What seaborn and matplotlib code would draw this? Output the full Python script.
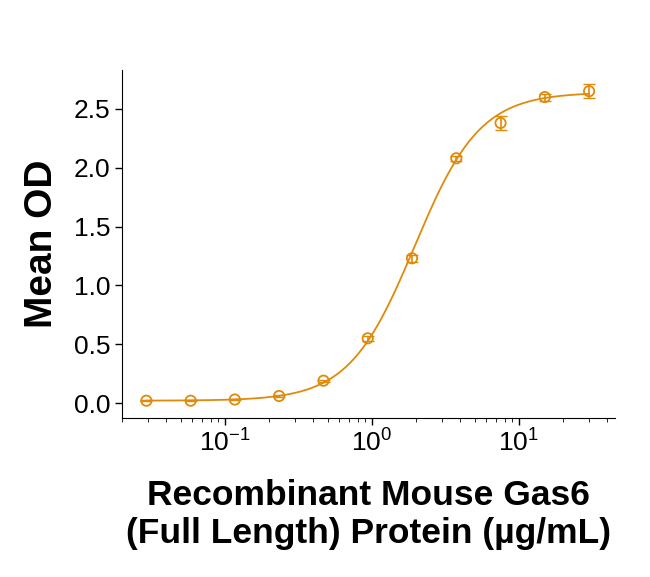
import numpy as np
import pandas as pd
import matplotlib
matplotlib.use("Agg")
import matplotlib.pyplot as plt
import seaborn as sns

# concentrations (ug/mL) and mean OD
conc = [0.0293, 0.0586, 0.117, 0.234, 0.469, 0.9375, 1.875, 3.75, 7.5, 15, 30]
od = [0.02, 0.02, 0.03, 0.06, 0.19, 0.55, 1.23, 2.08, 2.38, 2.60, 2.65]
err = [0.005, 0.005, 0.005, 0.01, 0.01, 0.02, 0.03, 0.02, 0.06, 0.03, 0.06]

# 4PL fit parameters (bottom, top, ec50, hill)
fit = dict(bottom=0.02, top=2.64, ec50=1.95, hill=1.95)

color = "#E08A0A"
plt.rcParams["font.family"] = "Liberation Sans"

df = pd.DataFrame({"conc": conc, "od": od})
xs = np.logspace(np.log10(0.0293), np.log10(30), 300)
curve = pd.DataFrame({"conc": xs,
                      "od": fit["bottom"] + (fit["top"] - fit["bottom"]) / (1 + (fit["ec50"] / xs) ** fit["hill"])})

fig = plt.figure(figsize=(6.5, 5.77), dpi=100)
ax = fig.add_axes([122 / 650, 1 - 418 / 577, (615 - 122) / 650, (418 - 70) / 577])
sns.lineplot(data=curve, x="conc", y="od", color=color, lw=1.3, ax=ax)
ax.errorbar(conc, od, yerr=err, fmt="none", ecolor=color, elinewidth=1.2, capsize=4)
sns.scatterplot(data=df, x="conc", y="od", marker="o", s=55, facecolor="none",
                edgecolor=color, linewidth=1.3, ax=ax, zorder=3)

ax.set_xscale("log")
ax.set_xlim(0.02, 45)
ax.set_ylim(-0.127, 2.83)
ax.set_yticks([0, 0.5, 1.0, 1.5, 2.0, 2.5])
ax.set_yticklabels(["0.0", "0.5", "1.0", "1.5", "2.0", "2.5"])
ax.set_xticks([0.1, 1, 10])
for s in ["top", "right"]:
    ax.spines[s].set_visible(False)
ax.tick_params(labelsize=19, width=1, length=5)
ax.tick_params(which="minor", length=3)
ax.set_xlabel("Recombinant Mouse Gas6\n(Full Length) Protein (\u00b5g/mL)",
              fontsize=25.5, fontweight="bold", labelpad=16)
ax.set_ylabel("Mean OD", fontsize=28, fontweight="bold", labelpad=10)
fig.savefig("out.png", dpi=100)
